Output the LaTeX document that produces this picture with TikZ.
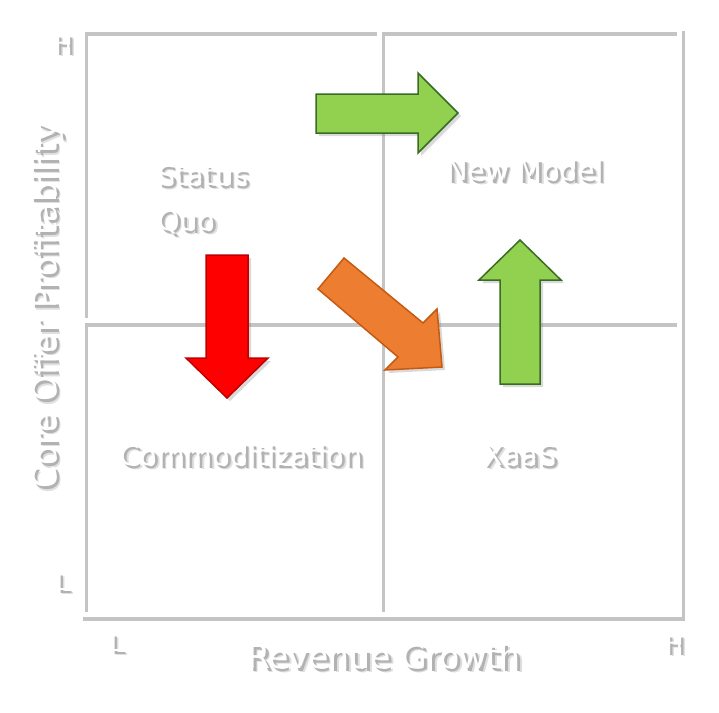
\documentclass[tikz,border=0pt]{standalone}
\usepackage{fontspec}
\setmainfont{DejaVu Sans}
\usetikzlibrary{shadows}
\definecolor{arrgreen}{HTML}{92D050}
\definecolor{arrgreenline}{HTML}{3A6B24}
\definecolor{arrred}{HTML}{FF0000}
\definecolor{arrredline}{HTML}{C00000}
\definecolor{arrorange}{HTML}{ED7D31}
\definecolor{arrorangeline}{HTML}{C55A11}
\definecolor{gridshadow}{HTML}{C4C4C4}
\tikzset{
	gridline/.style={white,line width=5pt},
	gridshade/.style={gridshadow,line width=5pt},
	lbl/.style={white,inner sep=0pt,anchor=base},
	lblshade/.style={black!30,inner sep=0pt,anchor=base},
	lblhalo/.style={black!12,inner sep=0pt,anchor=base},
	quad/.style={font=\fontsize{28.5}{45}\selectfont},
	axis/.style={font=\fontsize{33}{38}\selectfont},
	tick/.style={font=\fontsize{24}{28}\selectfont},
	bigarrow/.style 2 args={fill=#1,draw=#2,line width=1.5pt,
		drop shadow={shadow xshift=3pt,shadow yshift=-3pt,opacity=.3}}
}
% white text with a soft grey copy behind it
\newcommand{\shlabel}[4][]{%
	\node[lblhalo,xshift=4.5pt,yshift=-4.5pt,#1] (#2-h) at (#3) {#4};
	\node[lblshade,xshift=3pt,yshift=-3pt,#1] (#2-s) at (#3) {#4};
	\node[lbl,#1] (#2) at (#3) {#4};}

\begin{document}
\begin{tikzpicture}[x=1pt,y=-1pt]
	\useasboundingbox (0,0) rectangle (719,712);

	% grid
	\begin{scope}[shift={(3,4)}]
		\draw[gridshade] (82.5,29.5) rectangle (679,614.5);
		\draw[gridshade] (379.5,29.5) -- (379.5,614.5);
		\draw[gridshade] (82.5,320.5) -- (679,320.5);
	\end{scope}
	\draw[gridline] (82.5,29.5) rectangle (679,614.5);
	\draw[gridline] (379.5,29.5) -- (379.5,614.5);
	\draw[gridline] (82.5,320.5) -- (679,320.5);

	% labels
	\shlabel[quad,align=left,anchor=base west]{statusquo}{157,230}{Status\\Quo}
	\shlabel[quad]{newmodel}{525,180}{New Model}
	\shlabel[quad]{commod}{241,465}{Commoditization}
	\shlabel[quad]{xaas}{520,465}{XaaS}
	\shlabel[axis]{xaxis}{384,668}{Revenue Growth}
	\shlabel[axis,rotate=90]{yaxis}{56,305}{Core Offer Profitability}
	\shlabel[tick]{yhigh}{63,52}{H}
	\shlabel[tick]{ylow}{62,590}{L}
	\shlabel[tick]{xlow}{116,651}{L}
	\shlabel[tick]{xhigh}{674,652}{H}

	% arrows
	\filldraw[bigarrow={arrgreen}{arrgreenline}] (316,94) -- (418,94) -- (418,73) -- (458,113)
		-- (418,153) -- (418,133) -- (316,133) -- cycle;
	\filldraw[bigarrow={arrgreen}{arrgreenline}] (500,384) -- (500,280) -- (479,280) -- (520,240)
		-- (561,280) -- (540,280) -- (540,384) -- cycle;
	\filldraw[bigarrow={arrred}{arrredline}] (206,255) -- (248,255) -- (248,358) -- (268,358)
		-- (227,398) -- (186,358) -- (206,358) -- cycle;
	\filldraw[bigarrow={arrorange}{arrorangeline}] (344,258) -- (423,323) -- (437,309) -- (442,367)
		-- (385,370) -- (398,357) -- (318,289) -- cycle;
\end{tikzpicture}
\end{document}
